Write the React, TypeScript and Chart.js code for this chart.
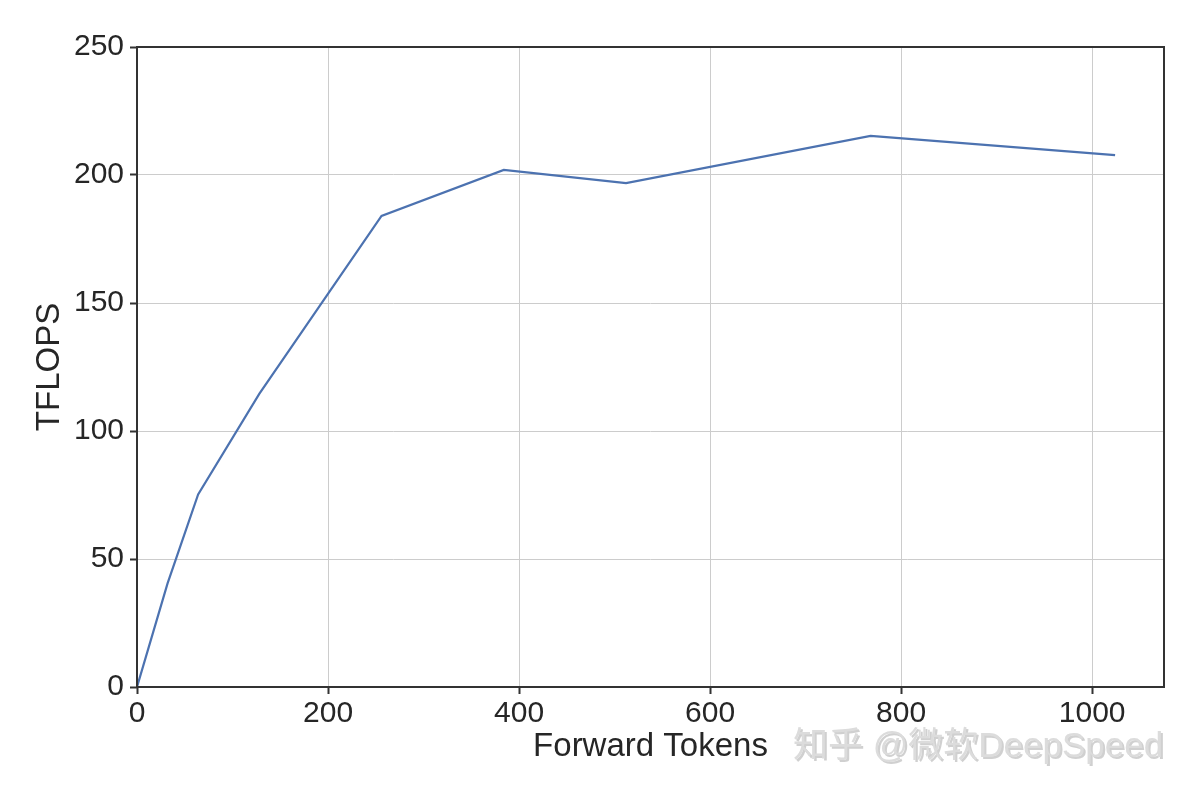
import React, { useEffect, useRef } from 'react';
import { Chart, registerables } from 'chart.js';

Chart.register(...registerables);

// forward tokens vs measured TFLOPS
const tokens = [0, 32, 64, 128, 256, 384, 512, 768, 1024];
const tflops = [0, 40.5, 75.2, 114.5, 184, 202, 196.8, 215.3, 207.8];
const xTicks = [0, 200, 400, 600, 800, 1000];
const yTicks = [0, 50, 100, 150, 200, 250];
const watermark = '知乎 @微软DeepSpeed';

const FONT = '"Liberation Sans", Arial, "Noto Sans CJK SC", sans-serif';
const INK = '#262626';

const framePlugin = {
  id: 'frame',
  afterDraw(chart: any) {
    const { ctx, chartArea: a } = chart;
    ctx.save();
    ctx.strokeStyle = '#333333';
    ctx.lineWidth = 2;
    ctx.strokeRect(a.left, a.top, a.right - a.left, a.bottom - a.top);
    // watermark
    ctx.font = '35px "Liberation Sans", "Noto Sans CJK SC", sans-serif';
    ctx.textBaseline = 'middle';
    ctx.textAlign = 'left';
    ctx.fillStyle = 'rgba(120,120,120,0.35)';
    ctx.fillText(watermark, 795, 749);
    ctx.fillStyle = 'rgb(220,220,220)';
    ctx.fillText(watermark, 793, 747);
    ctx.restore();
  },
};

const App: React.FC = () => {
  const chartRef = useRef<HTMLCanvasElement | null>(null);
  const chartInstance = useRef<Chart | null>(null);

  useEffect(() => {
    const ctx = chartRef.current?.getContext('2d');
    if (!ctx) return;
    if (chartInstance.current) chartInstance.current.destroy();

    chartInstance.current = new Chart(ctx, {
      type: 'line',
      data: {
        datasets: [
          {
            data: tokens.map((t, i) => ({ x: t, y: tflops[i] })),
            borderColor: '#4c72b0',
            borderWidth: 2.2,
            pointRadius: 0,
            tension: 0,
            fill: false,
          },
        ],
      },
      options: {
        animation: false,
        responsive: false,
        layout: { padding: { top: 47, right: 36, left: 0, bottom: 0 } },
        plugins: {
          legend: { display: false },
          tooltip: { enabled: false },
        },
        scales: {
          x: {
            type: 'linear',
            min: 0,
            max: 1075.2,
            afterBuildTicks: (scale: any) => {
              scale.ticks = xTicks.map((v) => ({ value: v }));
            },
            afterFit: (scale: any) => {
              scale.height = 800 - 687;
            },
            ticks: {
              color: INK,
              font: { family: FONT, size: 30 },
              padding: 2,
              maxRotation: 0,
              callback: (v: any) => String(v),
            },
            grid: {
              color: '#cccccc',
              lineWidth: 1,
              tickColor: '#333333',
              tickLength: 7,
              tickWidth: 2,
            },
            border: { display: false },
            title: {
              display: true,
              text: 'Forward Tokens',
              color: INK,
              font: { family: FONT, size: 33 },
              padding: { top: 0, bottom: 33 },
            },
          },
          y: {
            type: 'linear',
            min: 0,
            max: 250,
            afterBuildTicks: (scale: any) => {
              scale.ticks = yTicks.map((v) => ({ value: v }));
            },
            afterFit: (scale: any) => {
              scale.width = 137;
            },
            ticks: {
              color: INK,
              font: { family: FONT, size: 30 },
              padding: 6,
            },
            grid: {
              color: '#cccccc',
              lineWidth: 1,
              tickColor: '#333333',
              tickLength: 7,
              tickWidth: 2,
            },
            border: { display: false },
            title: {
              display: true,
              text: 'TFLOPS',
              color: INK,
              font: { family: FONT, size: 33 },
              padding: { top: 30, bottom: 0 },
            },
          },
        },
      },
      plugins: [framePlugin],
    });

    return () => {
      if (chartInstance.current) {
        chartInstance.current.destroy();
        chartInstance.current = null;
      }
    };
  }, []);

  return (
    <div style={{ position: 'absolute', left: 0, top: 0, width: 1200, height: 800, background: '#fff' }}>
      <canvas ref={chartRef} width={1200} height={800} style={{ width: 1200, height: 800 }} />
    </div>
  );
};

export default App;
